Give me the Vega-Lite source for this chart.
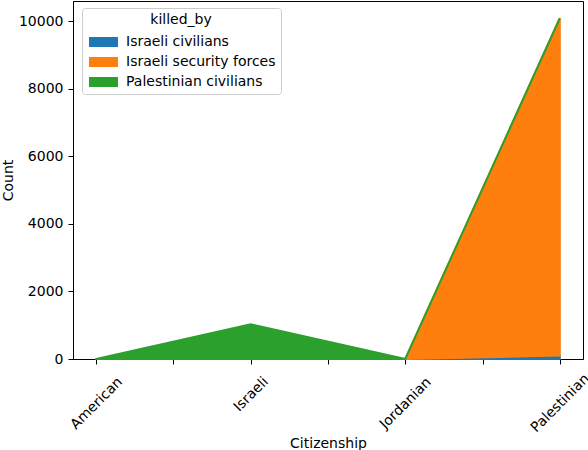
{
  "$schema": "https://vega.github.io/schema/vega-lite/v6.json",
  "width": 510,
  "height": 358,
  "autosize": {"type": "none"},
  "padding": {"left": 73, "top": 1, "right": 5, "bottom": 91},
  "background": "white",
  "config": {
    "font": "DejaVu Sans",
    "view": {"stroke": "black", "strokeWidth": 1},
    "axis": {
      "labelFont": "DejaVu Sans",
      "labelFontSize": 14,
      "labelColor": "black",
      "titleFont": "DejaVu Sans",
      "titleFontSize": 14,
      "titleFontWeight": "normal",
      "titleColor": "black",
      "domainColor": "black",
      "tickColor": "black",
      "tickSize": 5,
      "grid": false
    }
  },
  "data": {
    "values": [
      {"Citizenship": "American", "idx": 0, "killed_by": "Israeli civilians", "Count": 0},
      {"Citizenship": "American", "idx": 0, "killed_by": "Israeli security forces", "Count": 0},
      {"Citizenship": "American", "idx": 0, "killed_by": "Palestinian civilians", "Count": 1},
      {"Citizenship": "Israeli", "idx": 1, "killed_by": "Israeli civilians", "Count": 0},
      {"Citizenship": "Israeli", "idx": 1, "killed_by": "Israeli security forces", "Count": 0},
      {"Citizenship": "Israeli", "idx": 1, "killed_by": "Palestinian civilians", "Count": 1029},
      {"Citizenship": "Jordanian", "idx": 2, "killed_by": "Israeli civilians", "Count": 0},
      {"Citizenship": "Jordanian", "idx": 2, "killed_by": "Israeli security forces", "Count": 2},
      {"Citizenship": "Jordanian", "idx": 2, "killed_by": "Palestinian civilians", "Count": 0},
      {"Citizenship": "Palestinian", "idx": 3, "killed_by": "Israeli civilians", "Count": 100},
      {"Citizenship": "Palestinian", "idx": 3, "killed_by": "Israeli security forces", "Count": 9990},
      {"Citizenship": "Palestinian", "idx": 3, "killed_by": "Palestinian civilians", "Count": 0}
    ]
  },
  "mark": {"type": "area", "interpolate": "linear", "opacity": 1, "strokeWidth": 2},
  "encoding": {
    "x": {
      "field": "idx",
      "type": "quantitative",
      "scale": {"domain": [-0.15, 3.15], "nice": false, "zero": false},
      "axis": {
        "title": "Citizenship",
        "values": [0, 0.5, 1, 1.5, 2, 2.5, 3],
        "labelExpr": "datum.value == 0 ? 'American' : datum.value == 1 ? 'Israeli' : datum.value == 2 ? 'Jordanian' : datum.value == 3 ? 'Palestinian' : ''",
        "labelAngle": -45,
        "labelAlign": "center",
        "labelBaseline": "middle",
        "labelPadding": {"condition": {"test": "datum.value == 1", "value": 30}, "value": 39},
        "labelOverlap": false,
        "labelFlush": false,
        "labelBound": false,
        "titlePadding": 2
      }
    },
    "y": {
      "field": "Count",
      "type": "quantitative",
      "stack": "zero",
      "scale": {"domain": [0, 10600], "nice": false},
      "axis": {
        "title": "Count",
        "values": [0, 2000, 4000, 6000, 8000, 10000],
        "format": "d",
        "labelPadding": 5,
        "titlePadding": 3
      }
    },
    "order": {"field": "killed_by", "sort": "ascending"},
    "stroke": {
      "field": "killed_by",
      "type": "nominal",
      "scale": {
        "domain": ["Israeli civilians", "Israeli security forces", "Palestinian civilians"],
        "range": ["#1f77b4", "#ff7f0e", "#2ca02c"]
      },
      "legend": null
    },
    "color": {
      "field": "killed_by",
      "type": "nominal",
      "scale": {
        "domain": ["Israeli civilians", "Israeli security forces", "Palestinian civilians"],
        "range": ["#1f77b4", "#ff7f0e", "#2ca02c"]
      },
      "legend": {
        "orient": "none",
        "legendX": 9,
        "legendY": 7,
        "title": "killed_by",
        "titleAnchor": "middle",
        "titleFont": "DejaVu Sans",
        "titleFontSize": 14,
        "titleFontWeight": "normal",
        "titleColor": "black",
        "titlePadding": 8,
        "labelFont": "DejaVu Sans",
        "labelFontSize": 14,
        "labelColor": "black",
        "symbolType": "M-1,-1H4.8V1H-1Z",
        "symbolSize": 100,
        "symbolStrokeWidth": 0,
        "symbolOpacity": 1,
        "labelOffset": 25,
        "padding": 5,
        "rowPadding": 6,
        "strokeColor": "#cccccc",
        "fillColor": "rgba(255,255,255,0.8)",
        "cornerRadius": 3
      }
    }
  }
}
